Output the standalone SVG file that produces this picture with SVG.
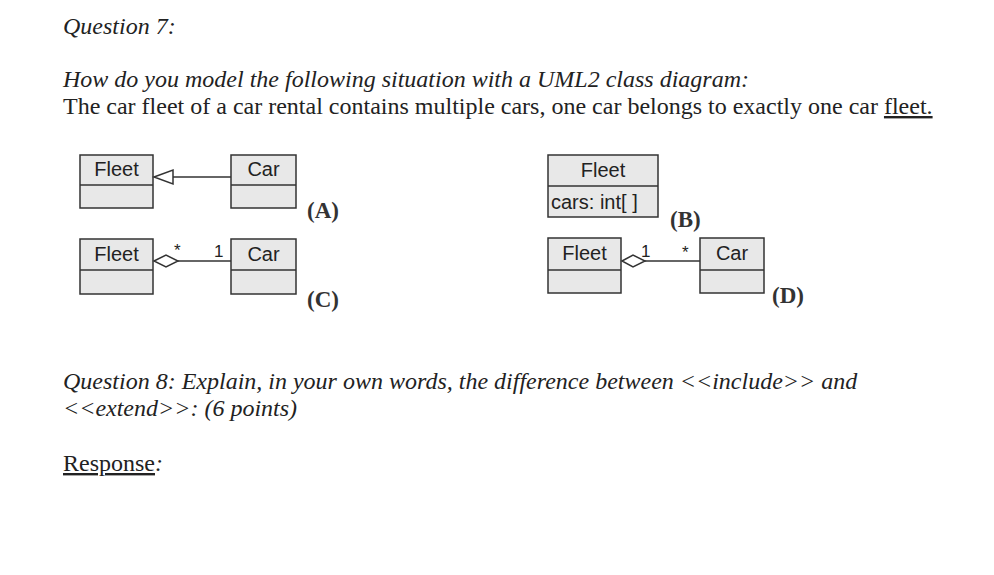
<svg xmlns="http://www.w3.org/2000/svg" width="994" height="575" viewBox="0 0 994 575">
<style>
.t{font-family:"Liberation Serif",serif;font-size:24px;fill:#222}
.i{font-style:italic}
.b{fill:#e8e8e8;stroke:#333;stroke-width:1.5}
.l{stroke:#333;stroke-width:1.5;fill:none}
.n{font-family:"Liberation Sans",sans-serif;font-size:20px;fill:#222}
.m{font-family:"Liberation Sans",sans-serif;font-size:17px;fill:#222}
.lb{font-family:"Liberation Serif",serif;font-size:23px;font-weight:bold;fill:#333}
</style>
<rect width="994" height="575" fill="#fff"/>
<text class="t i" x="63" y="34">Question 7:</text>
<text class="t i" x="63" y="87">How do you model the following situation with a UML2 class diagram:</text>
<text class="t" x="63" y="114">The car fleet of a car rental contains multiple cars, one car belongs to exactly one car <tspan text-decoration="underline">fleet.</tspan></text>
<g id="fleetA"><rect class="b" x="80" y="155" width="73" height="53"/><line class="l" x1="80" y1="185" x2="153" y2="185"/><text class="n" x="116.5" y="176" text-anchor="middle">Fleet</text></g>
<g id="carA"><rect class="b" x="231" y="155" width="65" height="53"/><line class="l" x1="231" y1="185" x2="296" y2="185"/><text class="n" x="263.5" y="176" text-anchor="middle">Car</text></g>
<g id="fleetB"><rect class="b" x="548" y="155" width="110" height="62"/><line class="l" x1="548" y1="186" x2="658" y2="186"/><text class="n" x="603" y="177" text-anchor="middle">Fleet</text><text class="n" x="551" y="209">cars: int[ ]</text></g>
<g id="fleetC"><rect class="b" x="80" y="239" width="73" height="55"/><line class="l" x1="80" y1="270" x2="153" y2="270"/><text class="n" x="116.5" y="261" text-anchor="middle">Fleet</text></g>
<g id="carC"><rect class="b" x="231" y="239" width="65" height="55"/><line class="l" x1="231" y1="270" x2="296" y2="270"/><text class="n" x="263.5" y="261" text-anchor="middle">Car</text></g>
<g id="fleetD"><rect class="b" x="548" y="238" width="73" height="55"/><line class="l" x1="548" y1="270" x2="621" y2="270"/><text class="n" x="584.5" y="260" text-anchor="middle">Fleet</text></g>
<g id="carD"><rect class="b" x="700" y="238" width="64" height="55"/><line class="l" x1="700" y1="270" x2="764" y2="270"/><text class="n" x="732" y="260" text-anchor="middle">Car</text></g>
<g id="connectors">
<line class="l" x1="173" y1="177" x2="231" y2="177"/><polygon class="l" fill="#fff" points="154,177 173,170 173,184"/>
<line class="l" x1="178" y1="261" x2="231" y2="261"/><polygon class="l" fill="#fff" points="154,261 166,255 178,261 166,267"/>
<line class="l" x1="645" y1="261" x2="700" y2="261"/><polygon class="l" fill="#fff" points="622,261 633,255 645,261 633,267"/>
<text class="m" x="174" y="256">*</text><text class="m" x="214" y="257">1</text>
<text class="m" x="641" y="257">1</text><text class="m" x="682" y="258">*</text>
</g>
<text class="lb" x="307" y="218">(A)</text>
<text class="lb" x="307" y="307">(C)</text>
<text class="lb" x="670" y="227">(B)</text>
<text class="lb" x="772" y="303">(D)</text>
<text class="t i" x="63" y="389">Question 8: Explain, in your own words, the difference between &lt;&lt;include&gt;&gt; and</text>
<text class="t i" x="63" y="416">&lt;&lt;extend&gt;&gt;: (6 points)</text>
<text class="t" x="63" y="471"><tspan text-decoration="underline">Response</tspan><tspan class="i">:</tspan></text>
</svg>
